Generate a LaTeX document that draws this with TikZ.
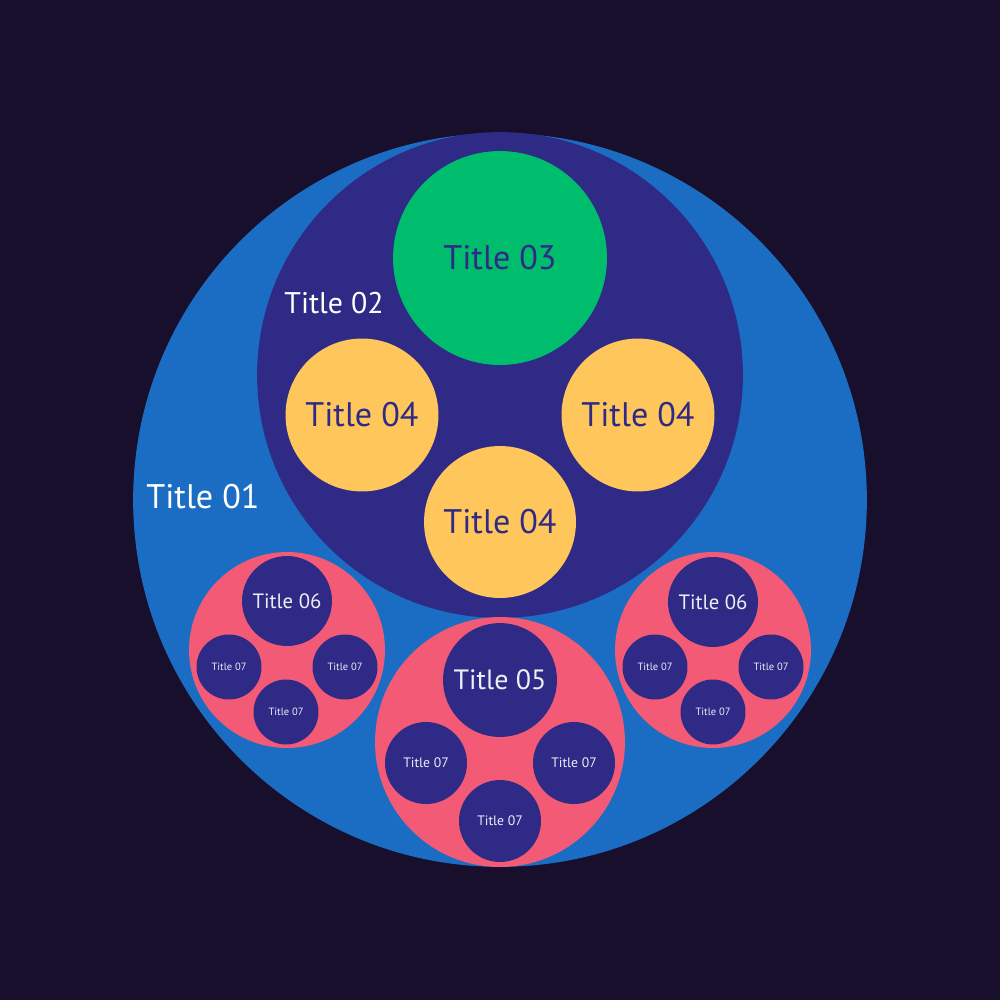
\documentclass[tikz,border=0pt]{standalone}
\usepackage{fontspec}
\setmainfont{PT Sans}
\usetikzlibrary{positioning}
\definecolor{night}{HTML}{170F2B}
\definecolor{sky}{HTML}{1B6DC4}
\definecolor{indigo}{HTML}{2F2A86}
\definecolor{mint}{HTML}{00BC6D}
\definecolor{sun}{HTML}{FFC65B}
\definecolor{rose}{HTML}{F35A75}
\tikzset{
	disc/.style={circle, inner sep=0pt, minimum size=#1*0.04cm},
	fs/.style={font=\fontsize{#1}{#1}\selectfont},
	inner/.style={fill=indigo, text=white!92!indigo},
}

\begin{document}
\begin{tikzpicture}[x=0.02cm, y=-0.02cm]
				\fill [night] (0,0) rectangle (1000,1000);
				\node [disc=367, fill=sky] (C01) at (500,500) {};
				\node [disc=243, fill=indigo] (C02) at (500,375) {};
				\node [fs=19.4, text=white] (L01) at (203,497) {Title 01};
				\node [fs=17, text=white] (L02) at (334,303) {Title 02};
				\node [disc=107, fill=mint, text=indigo, fs=19.4] (C03) at (500,258) {Title 03};
				\node [disc=76.5, fill=sun, text=indigo, fs=19.4] (C04a) at (362,415) {Title 04};
				\node [disc=76.5, fill=sun, text=indigo, fs=19.4] (C04b) at (638,415) {Title 04};
				\node [disc=76, fill=sun, text=indigo, fs=19.4] (C04c) at (500,522) {Title 04};
				% groups at the bottom
				\node [disc=98, fill=rose] (P1) at (287,650) {};
				\node [disc=125, fill=rose] (P2) at (500,742) {};
				\node [disc=98, fill=rose] (P3) at (713,650) {};
				\node [disc=57, inner, fs=15.9] (C05) at (500,680) {Title 05};
				\node [disc=41, inner, fs=7.8] (C07d) at (426,763) {Title 07};
				\node [disc=41, inner, fs=7.8] (C07e) at (574,763) {Title 07};
				\node [disc=41, inner, fs=7.8] (C07f) at (500,821) {Title 07};
				\node [disc=45, inner, fs=11.8] (C06a) at (287,601) {Title 06};
				\node [disc=32.5, inner, fs=6] (C07a) at (229,667) {Title 07};
				\node [disc=32.5, inner, fs=6] (C07b) at (345,667) {Title 07};
				\node [disc=32.5, inner, fs=6] (C07c) at (286,712) {Title 07};
				\node [disc=45, inner, fs=11.8] (C06b) at (713,602) {Title 06};
				\node [disc=32.5, inner, fs=6] (C07g) at (655,667) {Title 07};
				\node [disc=32.5, inner, fs=6] (C07h) at (771,667) {Title 07};
				\node [disc=32.5, inner, fs=6] (C07i) at (713,712) {Title 07};
			\end{tikzpicture}
\end{document}
